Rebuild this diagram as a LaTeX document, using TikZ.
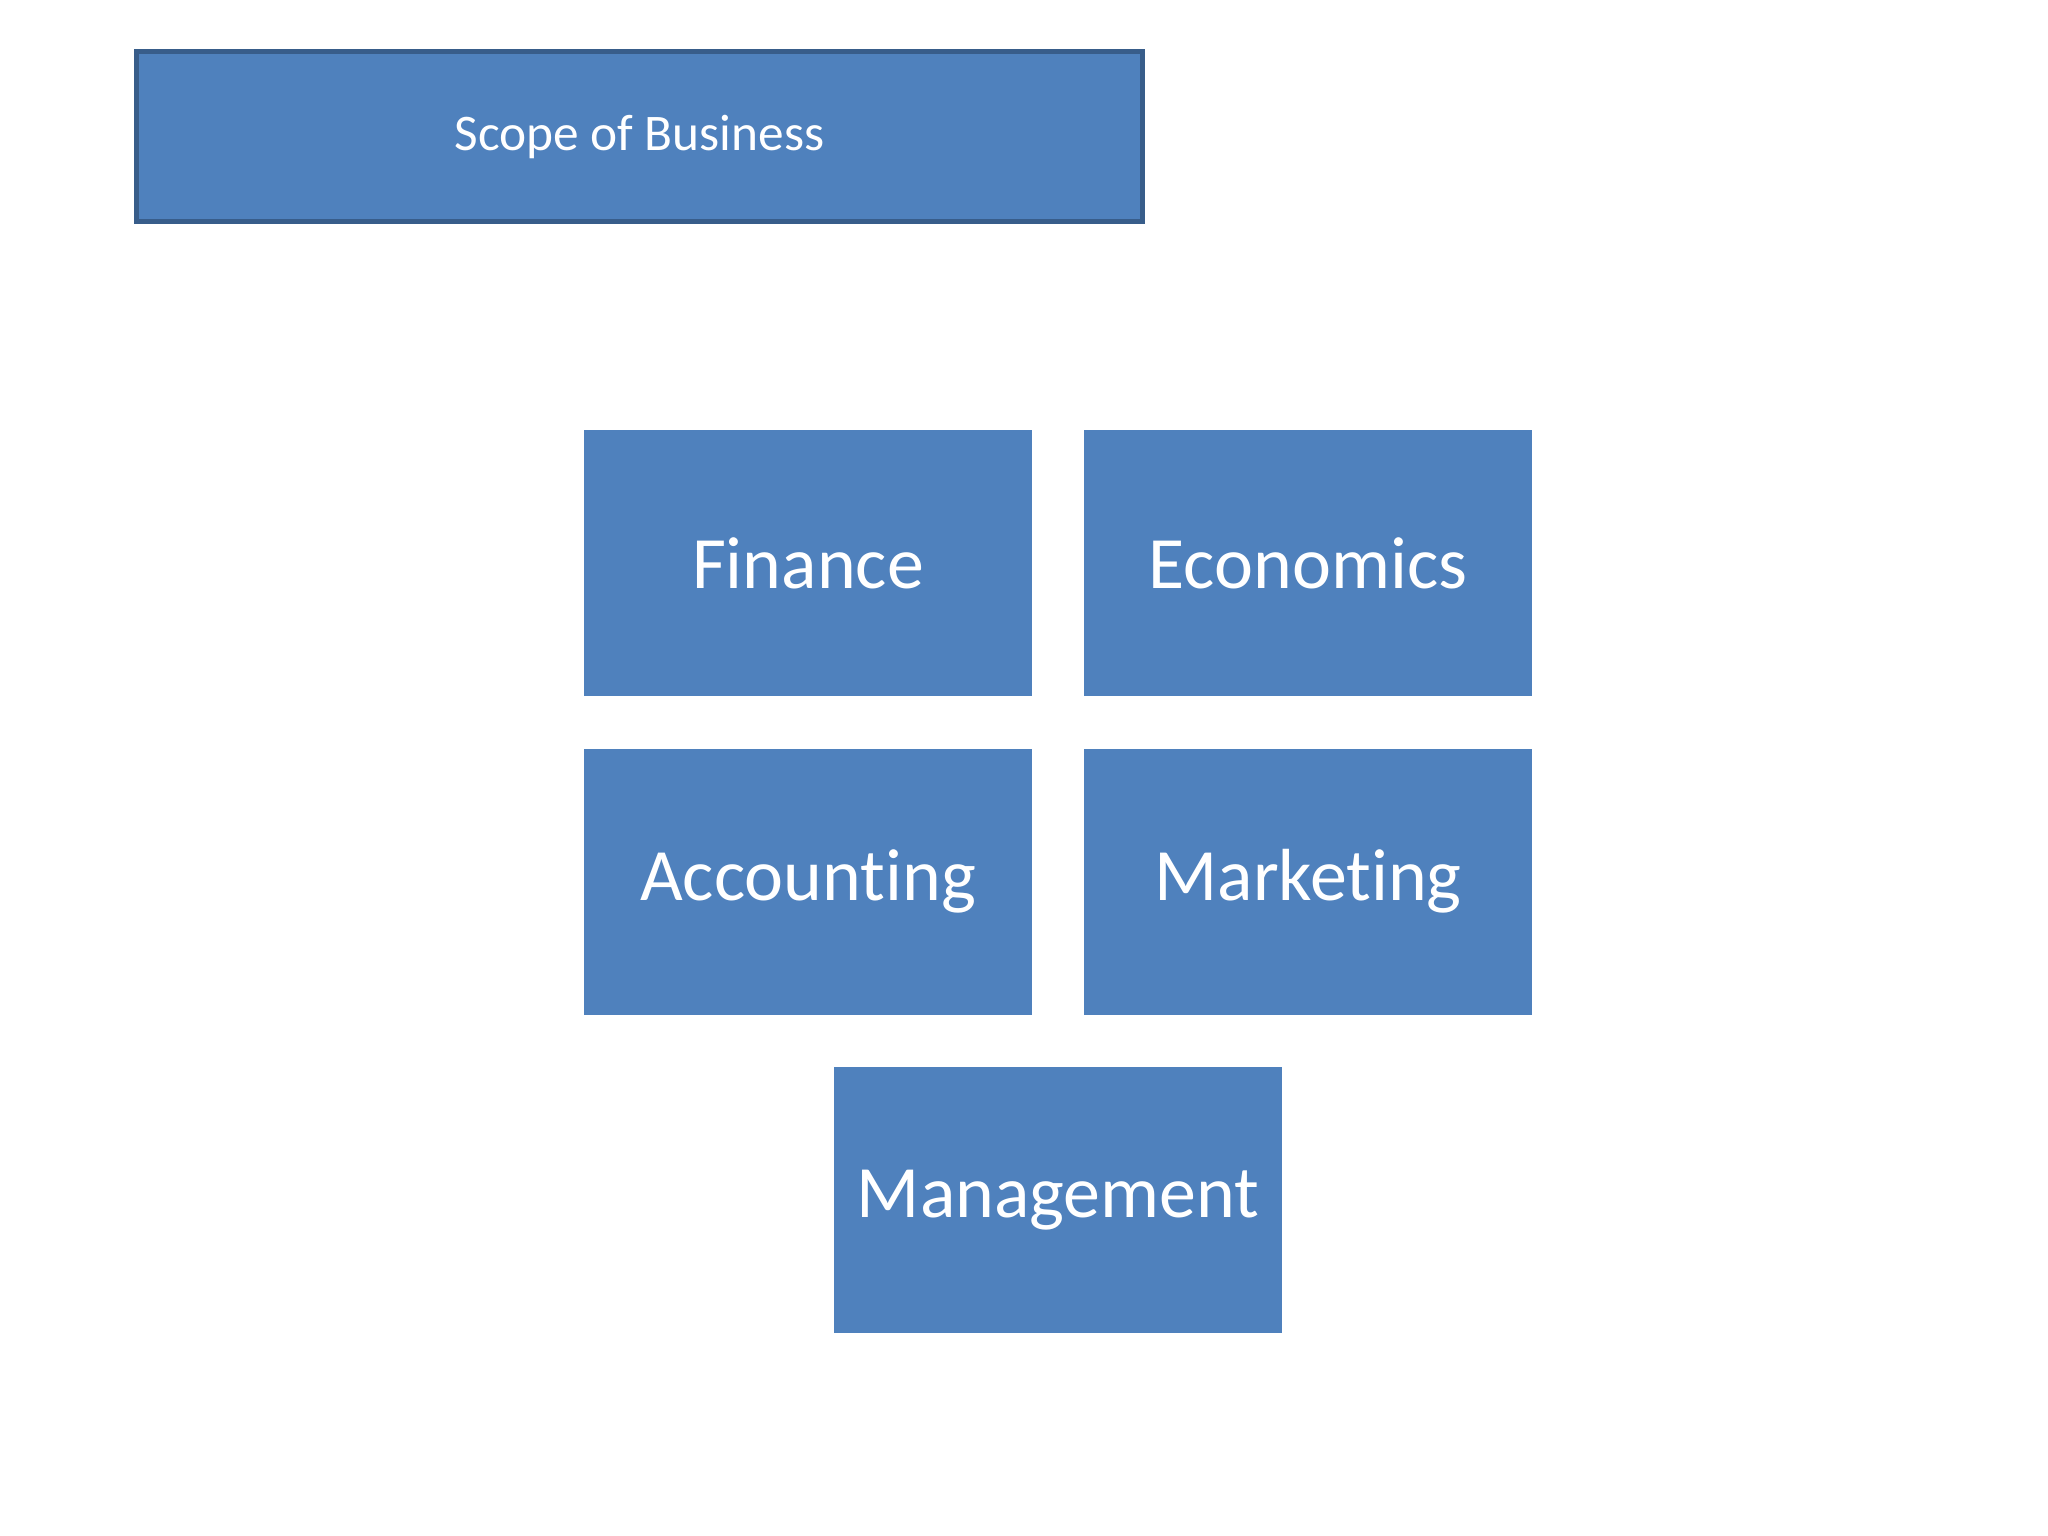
\documentclass[tikz,border=0pt]{standalone}
\usepackage{fontspec}
\setmainfont[Ligatures={NoCommon}]{Carlito}
\usetikzlibrary{positioning}
\definecolor{boxblue}{HTML}{4F81BD}
\definecolor{edgeblue}{HTML}{385D8A}
\tikzstyle{titlebox}=[rectangle,fill=boxblue,draw=edgeblue,line width=1.3pt,inner sep=0pt,outer sep=0pt,minimum width=1006\xpx,minimum height=170\xpx,text=white,font=\fontsize{14.6}{17}\selectfont]
\tikzstyle{fieldbox}=[rectangle,fill=boxblue,inner sep=0pt,outer sep=0pt,minimum width=448\xpx,minimum height=266\xpx,text=white,font=\fontsize{21}{25}\selectfont]
\newlength{\xpx}
\setlength{\xpx}{0.01cm}

\begin{document}
\begin{tikzpicture}[x=0.01cm,y=-0.01cm]
	\useasboundingbox (0,0) rectangle (2048,1536);
	\node[titlebox] (scope) at (639.5,136.5) {Scope of Business};
	% the four fields
	\node[fieldbox] (finance) at (808,563) {Finance};
	\node[fieldbox] (economics) at (1308,563) {Economics};
	\node[fieldbox] (accounting) at (808,881.5) {Accounting};
	\node[fieldbox] (marketing) at (1308,881.5) {Marketing};
	\node[fieldbox] (management) at (1058,1200) {Management};
\end{tikzpicture}
\end{document}
